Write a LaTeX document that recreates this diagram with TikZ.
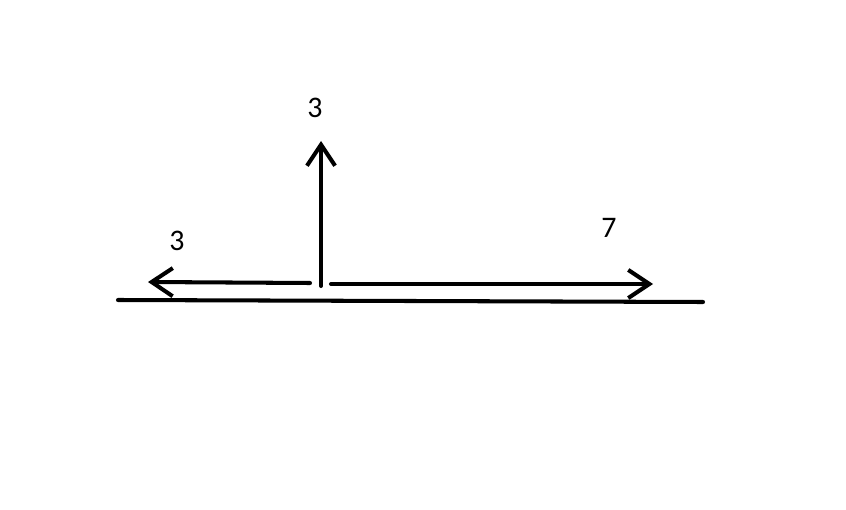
\documentclass[tikz,border=0pt]{standalone}
\usepackage{fontspec}
\setmainfont{Carlito}
\usetikzlibrary{arrows.meta}

\begin{document}
\begin{tikzpicture}[x=0.02cm, y=-0.02cm,
  force/.style={line width=2.3pt, line cap=round, -{Straight Barb[length=12pt, width=16pt, line width=2.3pt]}},
  num/.style={font=\fontsize{17}{19}\selectfont, inner sep=0pt}]
\useasboundingbox (0,0) rectangle (846,510);
\coordinate (Left) at (118,300);
\coordinate (Right) at (703,302);
\coordinate (Up0) at (321,286);
\coordinate (Up) at (321,141);
\coordinate (West0) at (310,283);
\coordinate (West) at (148,282);
\coordinate (East0) at (331,284);
\coordinate (East) at (653,284);
\node [num] (nUp) at (315,108) {3};
\node [num] (nWest) at (177,241) {3};
\node [num] (nEast) at (609,228) {7};
\draw [line width=2.3pt, line cap=round] (Left) -- (Right);
\draw [force] (Up0) -- (Up);
\draw [force] (West0) -- (West);
\draw [force] (East0) -- (East);

% three pulls on the block: up, left and right
\end{tikzpicture}
\end{document}
